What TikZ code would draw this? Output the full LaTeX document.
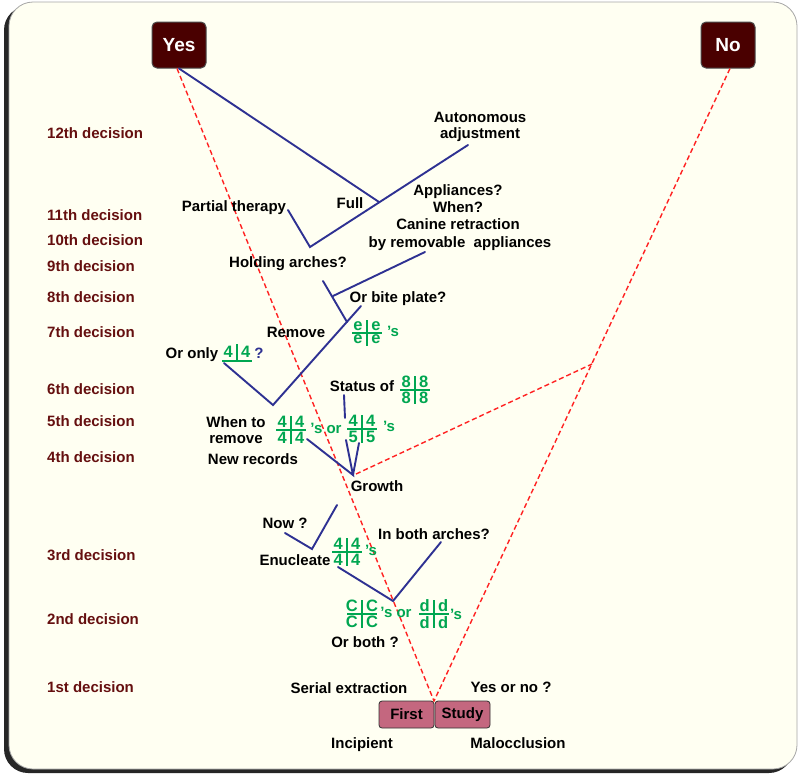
\documentclass[tikz,border=0pt]{standalone}
\usepackage{fontspec}
\setmainfont{Liberation Sans}
\definecolor{cream}{HTML}{FFFFF2}
\definecolor{boxred}{HTML}{4A0000}
\definecolor{declab}{HTML}{650F0F}
\definecolor{navy}{HTML}{2E3192}
\definecolor{dred}{HTML}{FF2222}
\definecolor{tgreen}{HTML}{00A651}
\definecolor{mauve}{HTML}{C4677F}
\tikzset{
  txt/.style={font=\fontsize{15}{17}\selectfont\bfseries, inner sep=0pt, text height=10.7pt, text depth=0pt},
  dec/.style={txt, text=declab, anchor=west},
  grn/.style={txt, text=tgreen},
  dig/.style={font=\fontsize{16.5}{18}\selectfont\bfseries, text=tgreen, inner sep=0pt},
  gline/.style={draw=tgreen, line width=1.6pt},
  bl/.style={draw=navy, line width=1.9pt, line cap=round},
  rd/.style={draw=dred, line width=1.4pt, dash pattern=on 5pt off 3pt},
  yn/.style={fill=boxred, draw=gray!60!black, rounded corners=5pt, line width=1pt, minimum width=54pt, minimum height=46pt, inner sep=0pt, text=white, font=\fontsize{19}{21}\selectfont\bfseries},
  fsbox/.style={fill=mauve, draw=gray!40!black, rounded corners=3pt, line width=0.8pt, minimum width=55pt, minimum height=27pt, inner sep=0pt, font=\fontsize{15}{17}\selectfont\bfseries},
  pics/teeth/.style n args={4}{code={
    \node[dig, anchor=south east] (-a) at (-4,-2) {#1};
    \node[dig, anchor=south west] (-b) at (4,-2) {#2};
    \node[dig, anchor=north east] (-c) at (-4,2) {#3};
    \node[dig, anchor=north west] (-d) at (4,2) {#4};
    \draw[gline] (-15,0) -- (15,0);
    \draw[gline] (0,-14) -- (0,14);
  }}
}
\begin{document}
\begin{tikzpicture}[x=1pt,y=-1pt]
\useasboundingbox (0,0) rectangle (800,777);
% frame
\fill[black!85, rounded corners=24pt] (4,6) rectangle (793,773);
\filldraw[fill=cream, draw=gray!70, line width=0.8pt, rounded corners=24pt] (9,2) rectangle (797,769);

% boxes
\node[yn] (yes) at (179,45) {Yes};
\node[yn] (no) at (728,45) {No};
\node[fsbox] (first) at (406.5,714.5) {First};
\node[fsbox] (study) at (462.5,714.5) {Study};

% junction coordinates
\coordinate (apex) at (434,701);
\coordinate (redR) at (592,364);
\coordinate (grow) at (353,475);
\coordinate (growR) at (356,474);
\coordinate (full) at (379,202);
\coordinate (auto) at (468,145);
\coordinate (hold) at (310,247);
\coordinate (part) at (288,210);
\coordinate (a9) at (323,281);
\coordinate (a8) at (333,296);
\coordinate (can) at (425,252);
\coordinate (a7) at (347,322);
\coordinate (bite) at (361,306);
\coordinate (rem) at (273,405);
\coordinate (only) at (224,363);
\coordinate (g1) at (307,439);
\coordinate (g2) at (346,440);
\coordinate (g3) at (359,443);
\coordinate (st1) at (344,395);
\coordinate (st2) at (345,418);
\coordinate (now1) at (285,533);
\coordinate (now2) at (312,549);
\coordinate (now3) at (337,505);
\coordinate (enu) at (338,567);
\coordinate (j2) at (393,601);
\coordinate (both) at (441,542);

% red dashed
\draw[rd] ([xshift=-2pt]yes.south) -- (apex) -- ([xshift=2pt]no.south);
\draw[rd] (growR) -- (redR);

% blue lines
\draw[bl] (yes.south) -- (full);
\draw[bl] (part) -- (hold) -- (auto);
\draw[bl] (a9) -- (a7);
\draw[bl] (a8) -- (can);
\draw[bl] (bite) -- (rem) -- (only);
\draw[bl] (g1) -- (grow) -- (g2);
\draw[bl] (grow) -- (g3);
\draw[bl] (st1) -- (st2);
\draw[bl] (now1) -- (now2) -- (now3);
\draw[bl] (enu) -- (j2) -- (both);

% decision labels
\node[dec] (d12) at (47,133) {12th decision};
\node[dec] (d11) at (47,215) {11th decision};
\node[dec] (d10) at (47,240) {10th decision};
\node[dec] (d9) at (47,266) {9th decision};
\node[dec] (d8) at (47,297) {8th decision};
\node[dec] (d7) at (47,332) {7th decision};
\node[dec] (d6) at (47,389) {6th decision};
\node[dec] (d5) at (47,421) {5th decision};
\node[dec] (d4) at (47,457) {4th decision};
\node[dec] (d3) at (47,555) {3rd decision};
\node[dec] (d2) at (47,619) {2nd decision};
\node[dec] (d1) at (47,687) {1st decision};

% texts
\node[txt] (auto1) at (480,117) {Autonomous};
\node[txt] (auto2) at (480,133) {adjustment};
\node[txt] (fulltxt) at (350,203) {Full};
\node[txt] (partial) at (234,206) {Partial therapy};
\node[txt] (app1) at (458,190) {Appliances?};
\node[txt] (app2) at (458,207) {When?};
\node[txt] (app3) at (458,224) {Canine retraction};
\node[txt] (app4) at (460,242) {by removable\ \ appliances};
\node[txt] (holding) at (288,262) {Holding arches?};
\node[txt] (bitetxt) at (398,297) {Or bite plate?};
\node[txt] (remove) at (296,332) {Remove};
\node[dig, align=center, font=\fontsize{16.5}{13}\selectfont\bfseries] (ee) at (367,333) {e\hspace{9pt}e\\e\hspace{9pt}e};
\draw[gline] (352,333) -- (382,333);
\draw[gline] (367,320) -- (367,346);
\node[grn] (ees) at (393,331) {'s};
\node[txt] (oronly) at (192,353) {Or only};
\node[dig, anchor=south east] (o4a) at (233,358) {4};
\node[dig, anchor=south west] (o4b) at (241,358) {4};
\draw[gline] (237,344) -- (237,361);
\draw[gline] (222,361) -- (252,361);
\node[txt, text=navy] (oq) at (259,353) {?};
\node[txt] (status) at (362,386) {Status of};
\pic (ee8) at (415,390) {teeth={8}{8}{8}{8}};
\node[txt] (when1) at (236,422) {When to};
\node[txt] (when2) at (236,438) {remove};
\pic (f44) at (291,430) {teeth={4}{4}{4}{4}};
\node[grn] (sor1) at (326,428) {'s or};
\pic (f45) at (362,429) {teeth={4}{4}{5}{5}};
\node[grn] (s45) at (389,426) {'s};
\node[txt] (newrec) at (253,459) {New records};
\node[txt] (growth) at (377,486) {Growth};
\node[txt] (nowq) at (285,523) {Now ?};
\node[txt] (enucl) at (295,560) {Enucleate};
\pic (e44) at (347,552) {teeth={4}{4}{4}{4}};
\node[grn] (e44s) at (371,550) {'s};
\node[txt] (inboth) at (434,534) {In both arches?};
\pic (cc) at (362,614) {teeth={C}{C}{C}{C}};
\node[grn] (sor2) at (396,612) {'s or};
\pic (dd) at (434,614) {teeth={d}{d}{d}{d}};
\node[grn] (dds) at (456,614) {'s};
\node[txt] (orboth) at (365,642) {Or both ?};
\node[txt] (serial) at (349,688) {Serial extraction};
\node[txt] (yesno) at (511,687) {Yes or no ?};
\node[txt] (incip) at (362,743) {Incipient};
\node[txt] (maloc) at (518,743) {Malocclusion};
\end{tikzpicture}
\end{document}
